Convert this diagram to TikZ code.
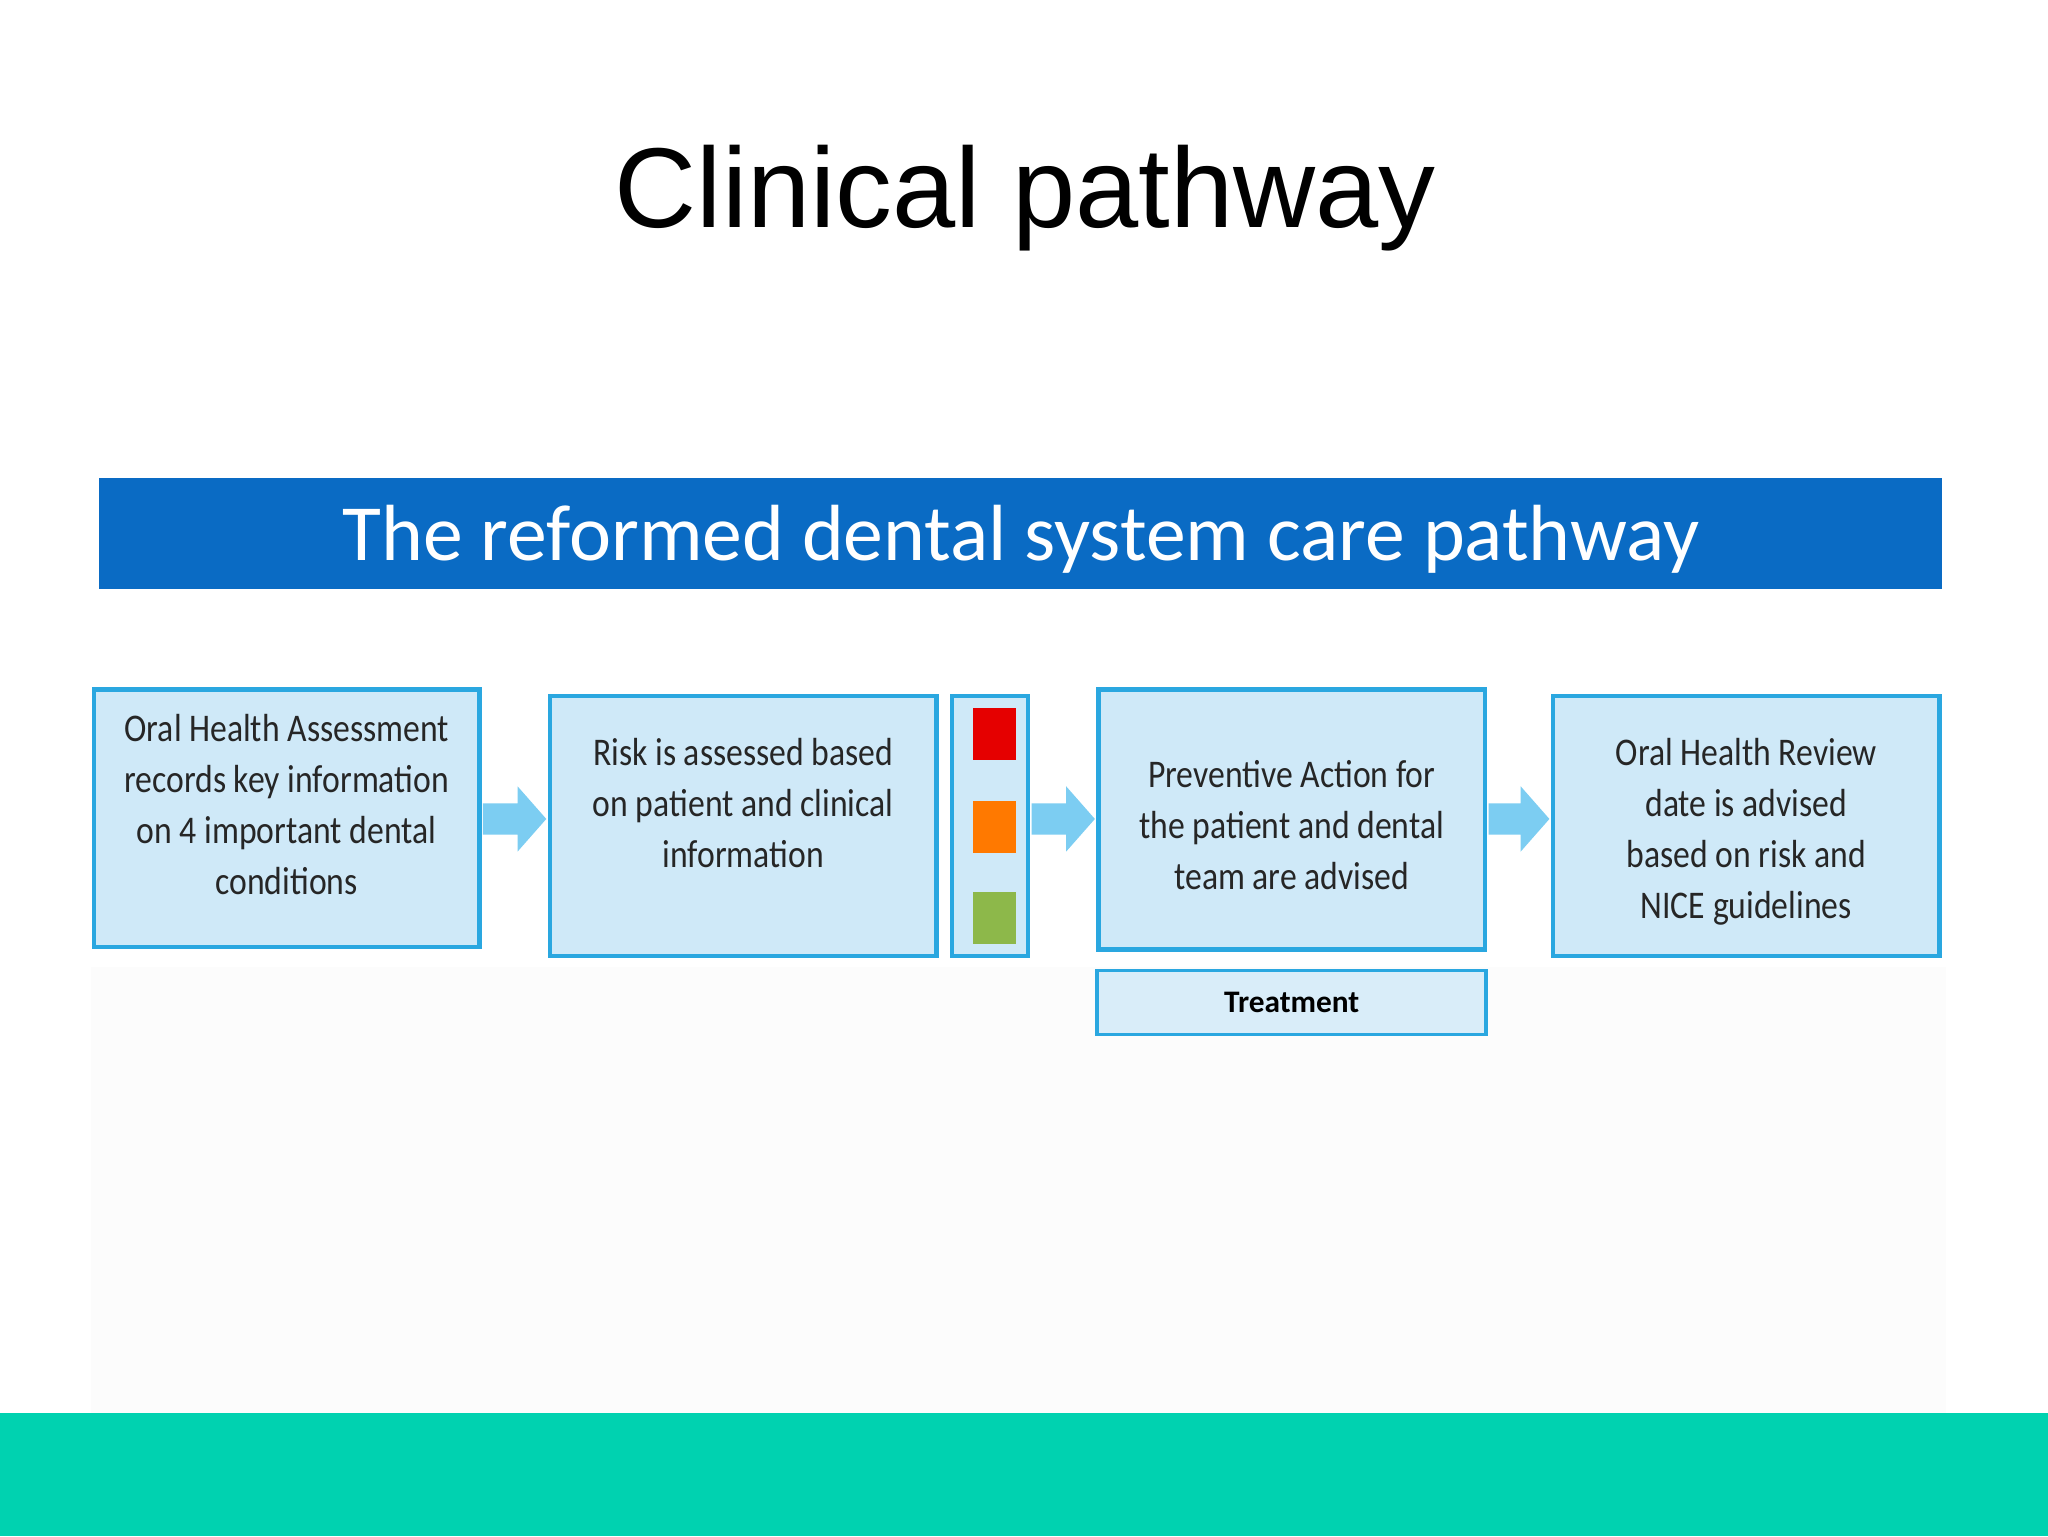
\documentclass[tikz,border=0pt]{standalone}
\usepackage{fontspec}
\setmainfont{Liberation Sans}
\newfontfamily\carl{Carlito}
\newfontfamily\carlc{Carlito}[FakeStretch=0.86]
\usetikzlibrary{calc}
\begin{document}
\begin{tikzpicture}[x=1pt,y=-1pt,
  box/.style={draw=boxline,line width=3.5pt,fill=boxfill,inner sep=0pt},
  txt/.style={inner sep=0pt,align=center,font=\carlc\fontsize{30}{39}\selectfont,text=black!85},
  sq/.style={inner sep=0pt,minimum width=33pt,minimum height=40pt}]
\definecolor{boxline}{HTML}{2AA7E0}
\definecolor{boxfill}{HTML}{CFE9F8}
\definecolor{arrowblue}{HTML}{7CCDF2}
\definecolor{banner}{HTML}{0A6BC4}
\definecolor{teal}{HTML}{00D2B0}
\useasboundingbox (0,0) rectangle (1568,1176);
\fill[white] (0,0) rectangle (1568,1176);
\fill[black!1] (70,740) rectangle (1490,1082);
\fill[teal] (0,1082) rectangle (1568,1176);
\node[font=\fontsize{87}{100}\selectfont] (title) at (785,152) {Clinical pathway};
\fill[banner] (76,366) rectangle (1487,451);
\node[inner sep=0pt,text=white,font=\carl\fontsize{61}{70}\selectfont] (ban) at (781.5,413) {The reformed dental system care pathway};
\node[box,minimum width=295pt,minimum height=197pt] (b1) at (219.5,626.5) {};
\node[txt] (t1) at (219.5,616) {Oral Health Assessment\\records key information\\on 4 important dental\\conditions};
\node[box,minimum width=296pt,minimum height=199pt] (b2) at (569,632.5) {};
\node[txt] (t2) at (569,615) {Risk is assessed based\\on patient and clinical\\information};
\node[box,minimum width=58pt,minimum height=199pt] (bc) at (758,632.5) {};
\node[sq,fill=red!90!black] (r) at (761.5,562) {};
\node[sq,fill=orange!95!red] (o) at (761.5,633) {};
\node[sq,fill={rgb,255:red,141;green,184;blue,74}] (g) at (761.5,703) {};
\node[box,minimum width=296pt,minimum height=199pt] (b3) at (989,627.5) {};
\node[txt] (t3) at (989,632) {Preventive Action for\\the patient and dental\\team are advised};
\node[box,minimum width=296pt,minimum height=199pt] (b4) at (1337,632.5) {};
\node[txt] (t4) at (1337,636.5) {Oral Health Review\\date is advised\\based on risk and\\NICE guidelines};
\node[box,line width=3pt,fill=boxfill!80!white,minimum width=298pt,minimum height=49pt,font=\carl\bfseries\fontsize{24}{28}\selectfont,text=black] (tr) at (989,767.5) {Treatment};
\foreach \a/\b in {b1/b2,bc/b3,b3/b4}{
  \path let \p1=(\a.east), \p2=(\b.west) in
   coordinate (s) at (\x1+1pt,-627pt) coordinate (e) at (\x2-1pt,-627pt);
  \fill[arrowblue] let \p1=(s), \p2=(e) in
   (\x1,\y1-12pt) -- (\x2-22pt,\y1-12pt) -- (\x2-22pt,\y1-25pt) -- (\x2,\y1) -- (\x2-22pt,\y1+25pt) -- (\x2-22pt,\y1+12pt) -- (\x1,\y1+12pt) -- cycle;
}
\end{tikzpicture}
\end{document}
